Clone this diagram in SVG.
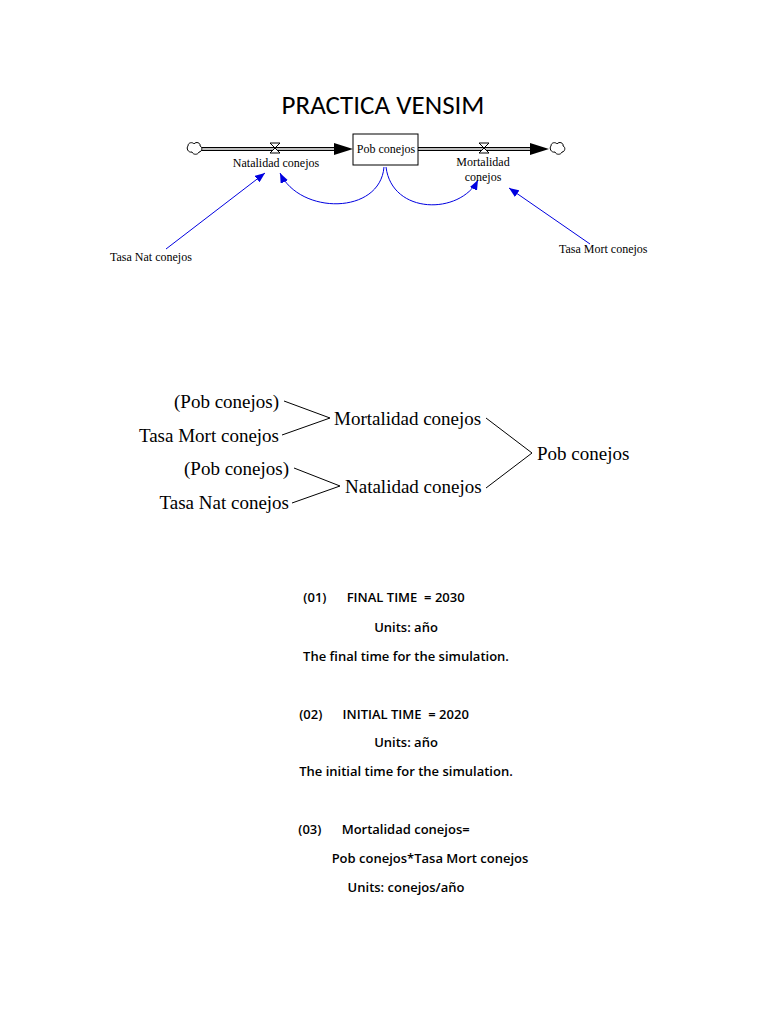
<svg xmlns="http://www.w3.org/2000/svg" width="768" height="1024" viewBox="0 0 768 1024">
<style>
.s{font-family:"Liberation Serif",serif;font-size:12px;fill:#000}
.t{font-family:"Liberation Serif",serif;font-size:19px;fill:#000}
.b{font-family:"Open Sans","Liberation Sans",sans-serif;font-size:13px;font-weight:600;fill:#000;text-anchor:middle;white-space:pre}
.pipe{stroke:#000;stroke-width:4;fill:none}
.pipei{stroke:#fff;stroke-width:1.6;fill:none}
.lk{stroke:#0000e0;stroke-width:1;fill:none}
.tl{stroke:#000;stroke-width:1;fill:none}
</style>
<defs>
<marker id="bh" markerWidth="10" markerHeight="8" refX="10" refY="4" orient="auto" markerUnits="userSpaceOnUse"><path d="M0,0L10,4L0,8z" fill="#0000e0"/></marker>
</defs>
<rect width="768" height="1024" fill="#fff"/>
<text x="383" y="114" font-family="Carlito,'Liberation Sans',sans-serif" font-size="27" text-anchor="middle">PRACTICA VENSIM</text>
<g id="connectors">
<path class="pipe" d="M200,149H338"/><path class="pipei" d="M200,149H338"/>
<path d="M334,143L353,149L334,155z"/>
<path class="pipe" d="M418,149H533"/><path class="pipei" d="M418,149H533"/>
<path d="M530,143L549,149L530,155z"/>
<path class="lk" marker-end="url(#bh)" d="M384,167C380,215 300,215 280,173"/>
<path class="lk" marker-end="url(#bh)" d="M386,167C392,215 460,215 478,180"/>
<path class="lk" marker-end="url(#bh)" d="M166,249L265,173"/>
<path class="lk" marker-end="url(#bh)" d="M590,244L509,188"/>
<path class="tl" d="M284,401L330,418L282,435M486,418L532,453L486,488M294,468L340,486L292,503"/>
</g>
<g id="cloudL"><path d="M188,146c0,-4 5,-4 6,-2c2,-3 7,-1 6,2c3,1 2,6 -1,6c-1,3 -6,3 -7,0c-4,1 -6,-4 -4,-6z" fill="#fff" stroke="#000"/></g>
<g id="cloudR"><path d="M551,146c0,-4 5,-4 6,-2c2,-3 7,-1 6,2c3,1 2,6 -1,6c-1,3 -6,3 -7,0c-4,1 -6,-4 -4,-6z" fill="#fff" stroke="#000"/></g>
<g id="valveN"><path d="M270,143H280L270,153H280z" fill="#fff" stroke="#000"/><text class="s" x="276" y="167" text-anchor="middle">Natalidad conejos</text></g>
<g id="valveM"><path d="M479,143H489L479,153H489z" fill="#fff" stroke="#000"/><text class="s" x="483" y="166" text-anchor="middle">Mortalidad</text><text class="s" x="483" y="181" text-anchor="middle">conejos</text></g>
<g id="stock"><rect x="353" y="134" width="65" height="31" fill="#fff" stroke="#000"/><text class="s" x="386" y="153" text-anchor="middle">Pob conejos</text></g>
<g id="tasaNat"><text class="s" x="110" y="261">Tasa Nat conejos</text></g>
<g id="tasaMort"><text class="s" x="559" y="253">Tasa Mort conejos</text></g>
<g id="tree">
<text class="t" x="279" y="408" text-anchor="end">(Pob conejos)</text>
<text class="t" x="279" y="442" text-anchor="end">Tasa Mort conejos</text>
<text class="t" x="334" y="425">Mortalidad conejos</text>
<text class="t" x="537" y="460">Pob conejos</text>
<text class="t" x="289" y="475" text-anchor="end">(Pob conejos)</text>
<text class="t" x="289" y="509" text-anchor="end">Tasa Nat conejos</text>
<text class="t" x="345" y="493">Natalidad conejos</text>
</g>
<g id="eqs">
<text class="b" x="384" y="602" xml:space="preserve">(01)      FINAL TIME  = 2030</text>
<text class="b" x="406" y="632">Units: año</text>
<text class="b" x="406" y="661">The final time for the simulation.</text>
<text class="b" x="384" y="719" xml:space="preserve">(02)      INITIAL TIME  = 2020</text>
<text class="b" x="406" y="747">Units: año</text>
<text class="b" x="406" y="776">The initial time for the simulation.</text>
<text class="b" x="384" y="834" xml:space="preserve">(03)      Mortalidad conejos=</text>
<text class="b" x="430" y="863">Pob conejos*Tasa Mort conejos</text>
<text class="b" x="406" y="892">Units: conejos/año</text>
</g>
</svg>
